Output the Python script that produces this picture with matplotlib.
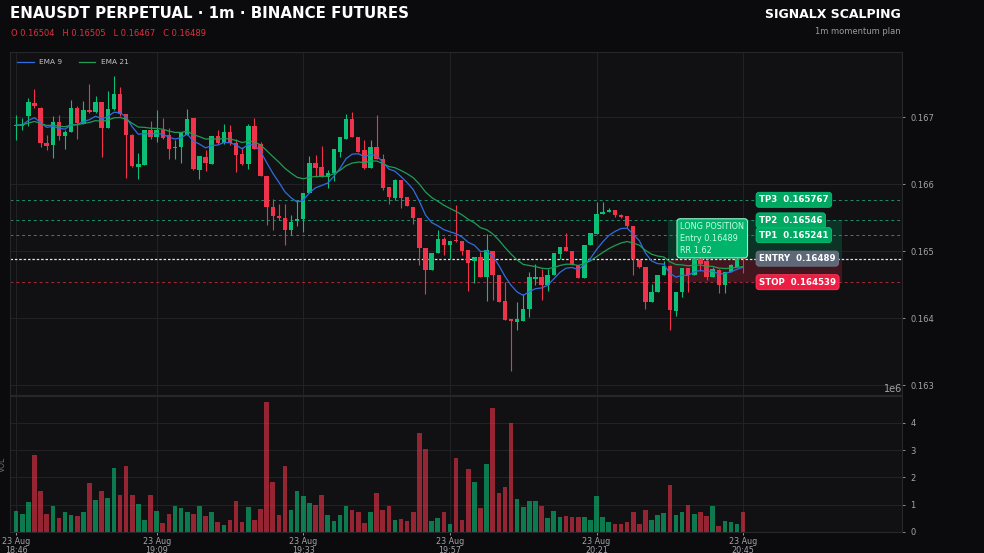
import matplotlib
matplotlib.use("Agg")
import matplotlib.pyplot as plt
import numpy as np
import pandas as pd

# 1m candles, 23 Aug 18:46 -> 20:45
opens = [0.16687, 0.16687, 0.16701, 0.16721, 0.16714, 0.16661, 0.16658, 0.16692, 0.16672, 0.16678,
         0.16714, 0.16690, 0.16711, 0.16707, 0.16722, 0.16684, 0.16712, 0.16734, 0.16704, 0.16674,
         0.16626, 0.16629, 0.16680, 0.16671, 0.16680, 0.16674, 0.16654, 0.16656, 0.16674, 0.16698,
         0.16621, 0.16640, 0.16630, 0.16672, 0.16661, 0.16677, 0.16661, 0.16645, 0.16630, 0.16686,
         0.16660, 0.16612, 0.16566, 0.16552, 0.16550, 0.16531, 0.16545, 0.16548, 0.16587, 0.16631,
         0.16626, 0.16611, 0.16616, 0.16648, 0.16668, 0.16697, 0.16671, 0.16651, 0.16624, 0.16655,
         0.16638, 0.16596, 0.16579, 0.16606, 0.16581, 0.16566, 0.16550, 0.16505, 0.16472, 0.16498,
         0.16519, 0.16509, 0.16517, 0.16515, 0.16502, 0.16486, 0.16492, 0.16462, 0.16501, 0.16465,
         0.16426, 0.16399, 0.16394, 0.16396, 0.16414, 0.16459, 0.16462, 0.16450, 0.16465, 0.16496,
         0.16507, 0.16501, 0.16480, 0.16460, 0.16509, 0.16526, 0.16555, 0.16559, 0.16561, 0.16554,
         0.16553, 0.16538, 0.16487, 0.16477, 0.16424, 0.16439, 0.16465, 0.16478, 0.16411, 0.16439,
         0.16475, 0.16464, 0.16489, 0.16486, 0.16462, 0.16472, 0.16449, 0.16469, 0.16477, 0.16504]
highs = [0.16703, 0.16698, 0.16729, 0.16742, 0.16715, 0.16673, 0.16702, 0.16703, 0.16681, 0.16726,
         0.16716, 0.16724, 0.16749, 0.16732, 0.16723, 0.16739, 0.16761, 0.16745, 0.16705, 0.16675,
         0.16647, 0.16681, 0.16694, 0.16711, 0.16698, 0.16683, 0.16666, 0.16678, 0.16712, 0.16698,
         0.16642, 0.16651, 0.16672, 0.16681, 0.16690, 0.16688, 0.16668, 0.16656, 0.16690, 0.16698,
         0.16663, 0.16612, 0.16578, 0.16570, 0.16570, 0.16554, 0.16576, 0.16587, 0.16642, 0.16643,
         0.16657, 0.16621, 0.16652, 0.16670, 0.16705, 0.16707, 0.16671, 0.16666, 0.16666, 0.16703,
         0.16645, 0.16596, 0.16608, 0.16606, 0.16581, 0.16566, 0.16550, 0.16505, 0.16498, 0.16531,
         0.16521, 0.16516, 0.16569, 0.16516, 0.16502, 0.16492, 0.16499, 0.16525, 0.16501, 0.16465,
         0.16454, 0.16399, 0.16424, 0.16437, 0.16469, 0.16481, 0.16474, 0.16474, 0.16497, 0.16507,
         0.16527, 0.16501, 0.16480, 0.16509, 0.16527, 0.16574, 0.16574, 0.16564, 0.16561, 0.16556,
         0.16553, 0.16538, 0.16487, 0.16477, 0.16451, 0.16465, 0.16486, 0.16479, 0.16439, 0.16475,
         0.16475, 0.16492, 0.16492, 0.16488, 0.16476, 0.16474, 0.16469, 0.16481, 0.16496, 0.16505]
lows = [0.16666, 0.16680, 0.16686, 0.16714, 0.16656, 0.16651, 0.16639, 0.16666, 0.16652, 0.16677,
        0.16668, 0.16689, 0.16706, 0.16706, 0.16641, 0.16683, 0.16711, 0.16702, 0.16609, 0.16626,
        0.16608, 0.16628, 0.16667, 0.16663, 0.16668, 0.16637, 0.16637, 0.16632, 0.16673, 0.16621,
        0.16607, 0.16620, 0.16630, 0.16660, 0.16660, 0.16658, 0.16618, 0.16629, 0.16623, 0.16652,
        0.16612, 0.16539, 0.16532, 0.16546, 0.16510, 0.16524, 0.16537, 0.16529, 0.16587, 0.16610,
        0.16611, 0.16595, 0.16604, 0.16640, 0.16668, 0.16670, 0.16648, 0.16622, 0.16624, 0.16638,
        0.16592, 0.16570, 0.16576, 0.16565, 0.16567, 0.16541, 0.16479, 0.16436, 0.16472, 0.16498,
        0.16495, 0.16489, 0.16514, 0.16495, 0.16441, 0.16452, 0.16462, 0.16426, 0.16428, 0.16424,
        0.16397, 0.16322, 0.16382, 0.16396, 0.16402, 0.16450, 0.16427, 0.16441, 0.16465, 0.16489,
        0.16500, 0.16480, 0.16460, 0.16460, 0.16509, 0.16526, 0.16555, 0.16559, 0.16551, 0.16549,
        0.16535, 0.16465, 0.16475, 0.16414, 0.16424, 0.16439, 0.16464, 0.16382, 0.16403, 0.16432,
        0.16439, 0.16464, 0.16471, 0.16457, 0.16461, 0.16438, 0.16438, 0.16469, 0.16477, 0.16467]
closes = [0.16688, 0.16689, 0.16722, 0.16716, 0.16661, 0.16657, 0.16692, 0.16672, 0.16677, 0.16714,
          0.16691, 0.16711, 0.16707, 0.16722, 0.16683, 0.16712, 0.16734, 0.16704, 0.16674, 0.16627,
          0.16630, 0.16680, 0.16671, 0.16680, 0.16669, 0.16653, 0.16656, 0.16677, 0.16697, 0.16622,
          0.16642, 0.16631, 0.16672, 0.16661, 0.16677, 0.16661, 0.16644, 0.16630, 0.16686, 0.16653,
          0.16612, 0.16566, 0.16553, 0.16549, 0.16531, 0.16544, 0.16548, 0.16587, 0.16632, 0.16624,
          0.16612, 0.16616, 0.16652, 0.16670, 0.16697, 0.16671, 0.16648, 0.16624, 0.16655, 0.16638,
          0.16594, 0.16581, 0.16606, 0.16579, 0.16567, 0.16550, 0.16505, 0.16472, 0.16498, 0.16519,
          0.16509, 0.16516, 0.16515, 0.16501, 0.16482, 0.16492, 0.16462, 0.16502, 0.16464, 0.16424,
          0.16397, 0.16396, 0.16399, 0.16414, 0.16462, 0.16462, 0.16450, 0.16465, 0.16497, 0.16507,
          0.16500, 0.16480, 0.16460, 0.16509, 0.16527, 0.16555, 0.16559, 0.16562, 0.16554, 0.16551,
          0.16537, 0.16489, 0.16477, 0.16424, 0.16439, 0.16465, 0.16478, 0.16412, 0.16439, 0.16475,
          0.16464, 0.16489, 0.16481, 0.16462, 0.16474, 0.16449, 0.16469, 0.16479, 0.16489, 0.16489]
# volume in millions
vol_m = [0.77, 0.66, 1.10, 2.83, 1.51, 0.66, 0.96, 0.52, 0.74, 0.63,
         0.59, 0.74, 1.80, 1.19, 1.51, 1.26, 2.36, 1.36, 2.43, 1.36,
         1.04, 0.44, 1.36, 0.77, 0.33, 0.66, 0.96, 0.88, 0.74, 0.66,
         0.97, 0.59, 0.74, 0.37, 0.26, 0.44, 1.12, 0.37, 0.92, 0.44,
         0.85, 4.75, 1.84, 0.63, 2.43, 0.81, 1.51, 1.33, 1.07, 0.99,
         1.36, 0.63, 0.40, 0.63, 0.97, 0.81, 0.74, 0.33, 0.74, 1.44,
         0.81, 0.96, 0.44, 0.48, 0.40, 0.74, 3.63, 3.06, 0.40, 0.52,
         0.74, 0.29, 2.72, 0.44, 2.32, 1.84, 0.88, 2.49, 4.53, 1.44,
         1.66, 3.99, 1.21, 0.92, 1.12, 1.12, 0.97, 0.52, 0.77, 0.55,
         0.59, 0.55, 0.55, 0.55, 0.44, 1.33, 0.55, 0.37, 0.28, 0.28,
         0.37, 0.75, 0.28, 0.82, 0.44, 0.63, 0.70, 1.74, 0.63, 0.74,
         0.99, 0.66, 0.74, 0.59, 0.97, 0.21, 0.40, 0.37, 0.29, 0.75]

start_time = "2024-08-23 18:46"
entry = 0.16489
stop = 0.164539
tp_levels = [0.165241, 0.16546, 0.165767]
tp_names = ["TP1", "TP2", "TP3"]
rr = 1.62

BG = "#0b0b0d"
PANEL = "#111114"
GRID = "#222227"
GREEN = "#0bbf76"
RED = "#f0334a"
TXT = "#a3a3aa"

n = len(closes)
x = np.arange(n)
o = np.array(opens); h = np.array(highs); l = np.array(lows); c = np.array(closes)
vol = np.array(vol_m) * 1e6
up = c >= o
cols = np.where(up, GREEN, RED)
times = pd.date_range(start_time, periods=n, freq="1min")

ema9 = pd.Series(c).ewm(span=9, adjust=False).mean()
ema21 = pd.Series(c).ewm(span=21, adjust=False).mean()

fig = plt.figure(figsize=(9.84, 5.53), dpi=100, facecolor=BG)
ax = fig.add_axes([0.0102, 0.2860, 0.9065, 0.6200], facecolor=PANEL)
axv = fig.add_axes([0.0102, 0.0380, 0.9065, 0.2460], facecolor=PANEL, sharex=ax)

for a in (ax, axv):
    for s in a.spines.values():
        s.set_color("#26262b")
        s.set_linewidth(0.8)
    a.yaxis.tick_right()
    a.tick_params(colors=TXT, labelsize=6, length=2.5, width=0.6)
    a.grid(True, color=GRID, linewidth=0.7)
    a.set_axisbelow(True)

# candles
ax.vlines(x, l, h, colors=cols, linewidth=0.8, zorder=3)
body = np.maximum(np.abs(c - o), 0.000012)
ax.bar(x, body, 0.72, bottom=np.minimum(o, c), color=cols, zorder=4, linewidth=0)

ax.plot(x, ema9, color="#2f6ee0", lw=0.9, label="EMA 9", zorder=5)
ax.plot(x, ema21, color="#1f9d55", lw=0.9, label="EMA 21", zorder=5)

# trade levels
for lv in tp_levels:
    ax.axhline(lv, color="#1d8f6c", lw=0.7, ls=(0, (3, 3)), zorder=2)
ax.axhline(entry, color="#e6e6e6", lw=0.9, ls=(0, (2, 1.5)), zorder=2)
ax.axhline(stop, color="#a3293a", lw=0.7, ls=(0, (3, 3)), zorder=2)

x0, x1 = n - 13.3, n + 15.2
ax.fill_between([x0, x1], entry, tp_levels[1], color="#0c3b2a", alpha=0.85, zorder=1, lw=0)
ax.fill_between([x0, x1], stop, entry, color="#4a1820", alpha=0.85, zorder=1, lw=0)

lx = n + 1.6
for name, lv in zip(tp_names, tp_levels):
    ax.text(lx, lv, f"{name}  {lv:g}", color="white", fontsize=6.2, fontweight="bold",
            va="center", ha="left", zorder=7,
            bbox=dict(boxstyle="round,pad=0.35", fc="#00a862", ec="#00c476", lw=0.6))
ax.text(lx, entry, f"ENTRY  {entry:g}", color="white", fontsize=6.2, fontweight="bold",
        va="center", ha="left", zorder=7,
        bbox=dict(boxstyle="round,pad=0.35", fc="#5d6878", ec="#6d7888", lw=0.6))
ax.text(lx, stop, f"STOP  {stop:g}", color="white", fontsize=6.2, fontweight="bold",
        va="center", ha="left", zorder=7,
        bbox=dict(boxstyle="round,pad=0.35", fc="#ec1e44", ec="#ff3a5a", lw=0.6))

ax.text(n - 11.3, entry + 0.00006, f"LONG POSITION\nEntry {entry:g}\nRR {rr:.2f}",
        color="#c9ffe6", fontsize=5.9, va="bottom", ha="left", linespacing=1.4, zorder=8,
        bbox=dict(boxstyle="round,pad=0.4", fc="#00b46c", ec="#8ff5c8", lw=0.8))

rng = h.max() - l.min()
ax.set_ylim(l.min() - 0.082 * rng, h.max() + 0.082 * rng)
ax.set_yticks([0.163, 0.164, 0.165, 0.166, 0.167])
ax.set_xlim(-1, n + 25)
ax.tick_params(axis="x", labelbottom=False)

leg = ax.legend(loc="upper left", ncol=2, frameon=False, fontsize=5.3,
                handlelength=2.2, columnspacing=2.2, borderaxespad=0.6)
for t in leg.get_texts():
    t.set_color("#c4c4c8")

# volume
axv.bar(x, vol, 0.75, color=cols, alpha=0.6, linewidth=0)
axv.set_ylim(0, vol.max() * 1.05)
axv.yaxis.get_offset_text().set_color(TXT)
axv.yaxis.get_offset_text().set_fontsize(7)
axv.set_ylabel("VOL", color="#6a6a70", fontsize=5.5, labelpad=2)
axv.yaxis.set_label_position("left")

tick_idx = np.linspace(0, n - 1, 6).astype(int)
axv.set_xticks(tick_idx)
axv.set_xticklabels([t.strftime("%d %b\n%H:%M") for t in times[tick_idx]], fontsize=5.8,
                    linespacing=0.95)
axv.tick_params(axis="x", pad=1.2)

# header
fig.text(10 / 984, 1 - 14 / 553, "ENAUSDT PERPETUAL · 1m · BINANCE FUTURES", color="white",
         fontsize=10.8, fontweight="bold", va="center", ha="left")
fig.text(11 / 984, 1 - 33 / 553,
         f"O {o[-1]:g}   H {h[-1]:g}   L {l[-1]:g}   C {c[-1]:g}",
         color="#e0303f", fontsize=6, va="center", ha="left")
fig.text(901 / 984, 1 - 15 / 553, "SIGNALX SCALPING", color="white", fontsize=9,
         fontweight="bold", va="center", ha="right")
fig.text(901 / 984, 1 - 32 / 553, "1m momentum plan", color="#9a9aa0", fontsize=6,
         va="center", ha="right")

fig.savefig("out.png", dpi=100, facecolor=BG)
